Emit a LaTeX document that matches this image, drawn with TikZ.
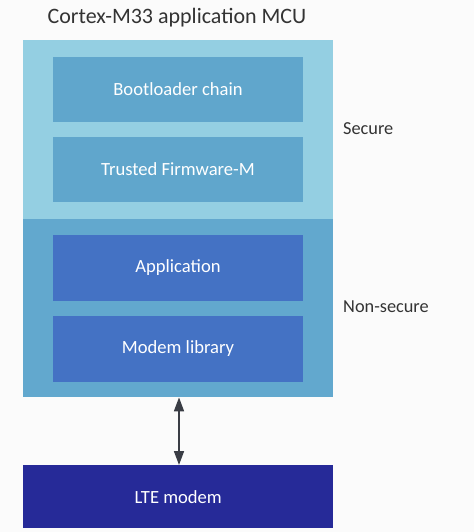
\documentclass[tikz,border=0pt]{standalone}
\usepackage{fontspec}
\setmainfont{Carlito}
\usetikzlibrary{arrows.meta}
\definecolor{bgc}{HTML}{FBFBFB}
\definecolor{secbg}{HTML}{94CFE2}
\definecolor{secin}{HTML}{60A6CC}
\definecolor{nsbg}{HTML}{62A8CE}
\definecolor{nsin}{HTML}{4472C4}
\definecolor{lte}{HTML}{262A98}
\definecolor{txt}{HTML}{333333}
\definecolor{arr}{HTML}{3A3D45}
\tikzset{
  inbox/.style={draw=none, minimum width=250pt, minimum height=65pt, text=white, font=\fontsize{18.6}{22}\selectfont, inner sep=0pt},
  lbl/.style={text=txt, font=\fontsize{18.3}{22}\selectfont, anchor=west, inner sep=0pt},
}
\begin{document}
\begin{tikzpicture}[x=1pt,y=-1pt]
\fill[bgc] (0,0) rectangle (474,532);
\useasboundingbox (0,0) rectangle (474,532);
\node[text=txt, font=\fontsize{22}{26}\selectfont, inner sep=0pt] (title) at (177,18) {Cortex-M33 application MCU};
\node[fill=secbg, minimum width=310pt, minimum height=180pt, inner sep=0pt, anchor=north west] (secure) at (23,40) {};
\node[fill=nsbg, minimum width=310pt, minimum height=178pt, inner sep=0pt, anchor=north west] (nonsecure) at (23,219) {};
\node[inbox, fill=secin] (boot) at (178,89.5) {Bootloader chain};
\node[inbox, fill=secin] (tfm) at (178,169.5) {Trusted Firmware-M};
\node[inbox, fill=nsin, minimum height=66pt] (app) at (178,268) {Application};
\node[inbox, fill=nsin, minimum height=66pt] (modem) at (178,349) {Modem library};
\node[fill=lte, minimum width=310pt, minimum height=63pt, inner sep=0pt, anchor=north west] (lte) at (23,465) {};
\node[text=white, font=\fontsize{18.6}{22}\selectfont, inner sep=0pt] (ltetext) at (lte.center) {LTE modem};
\node[lbl] (seclbl) at (343,129) {Secure};
\node[lbl] (nslbl) at (343,307) {Non-secure};
\draw[arr, line width=1.6pt, {Triangle[length=14pt,width=10pt]}-{Triangle[length=14pt,width=10pt]}] (nonsecure.south -| 179,0) -- (lte.north -| 179,0);
\end{tikzpicture}
\end{document}
